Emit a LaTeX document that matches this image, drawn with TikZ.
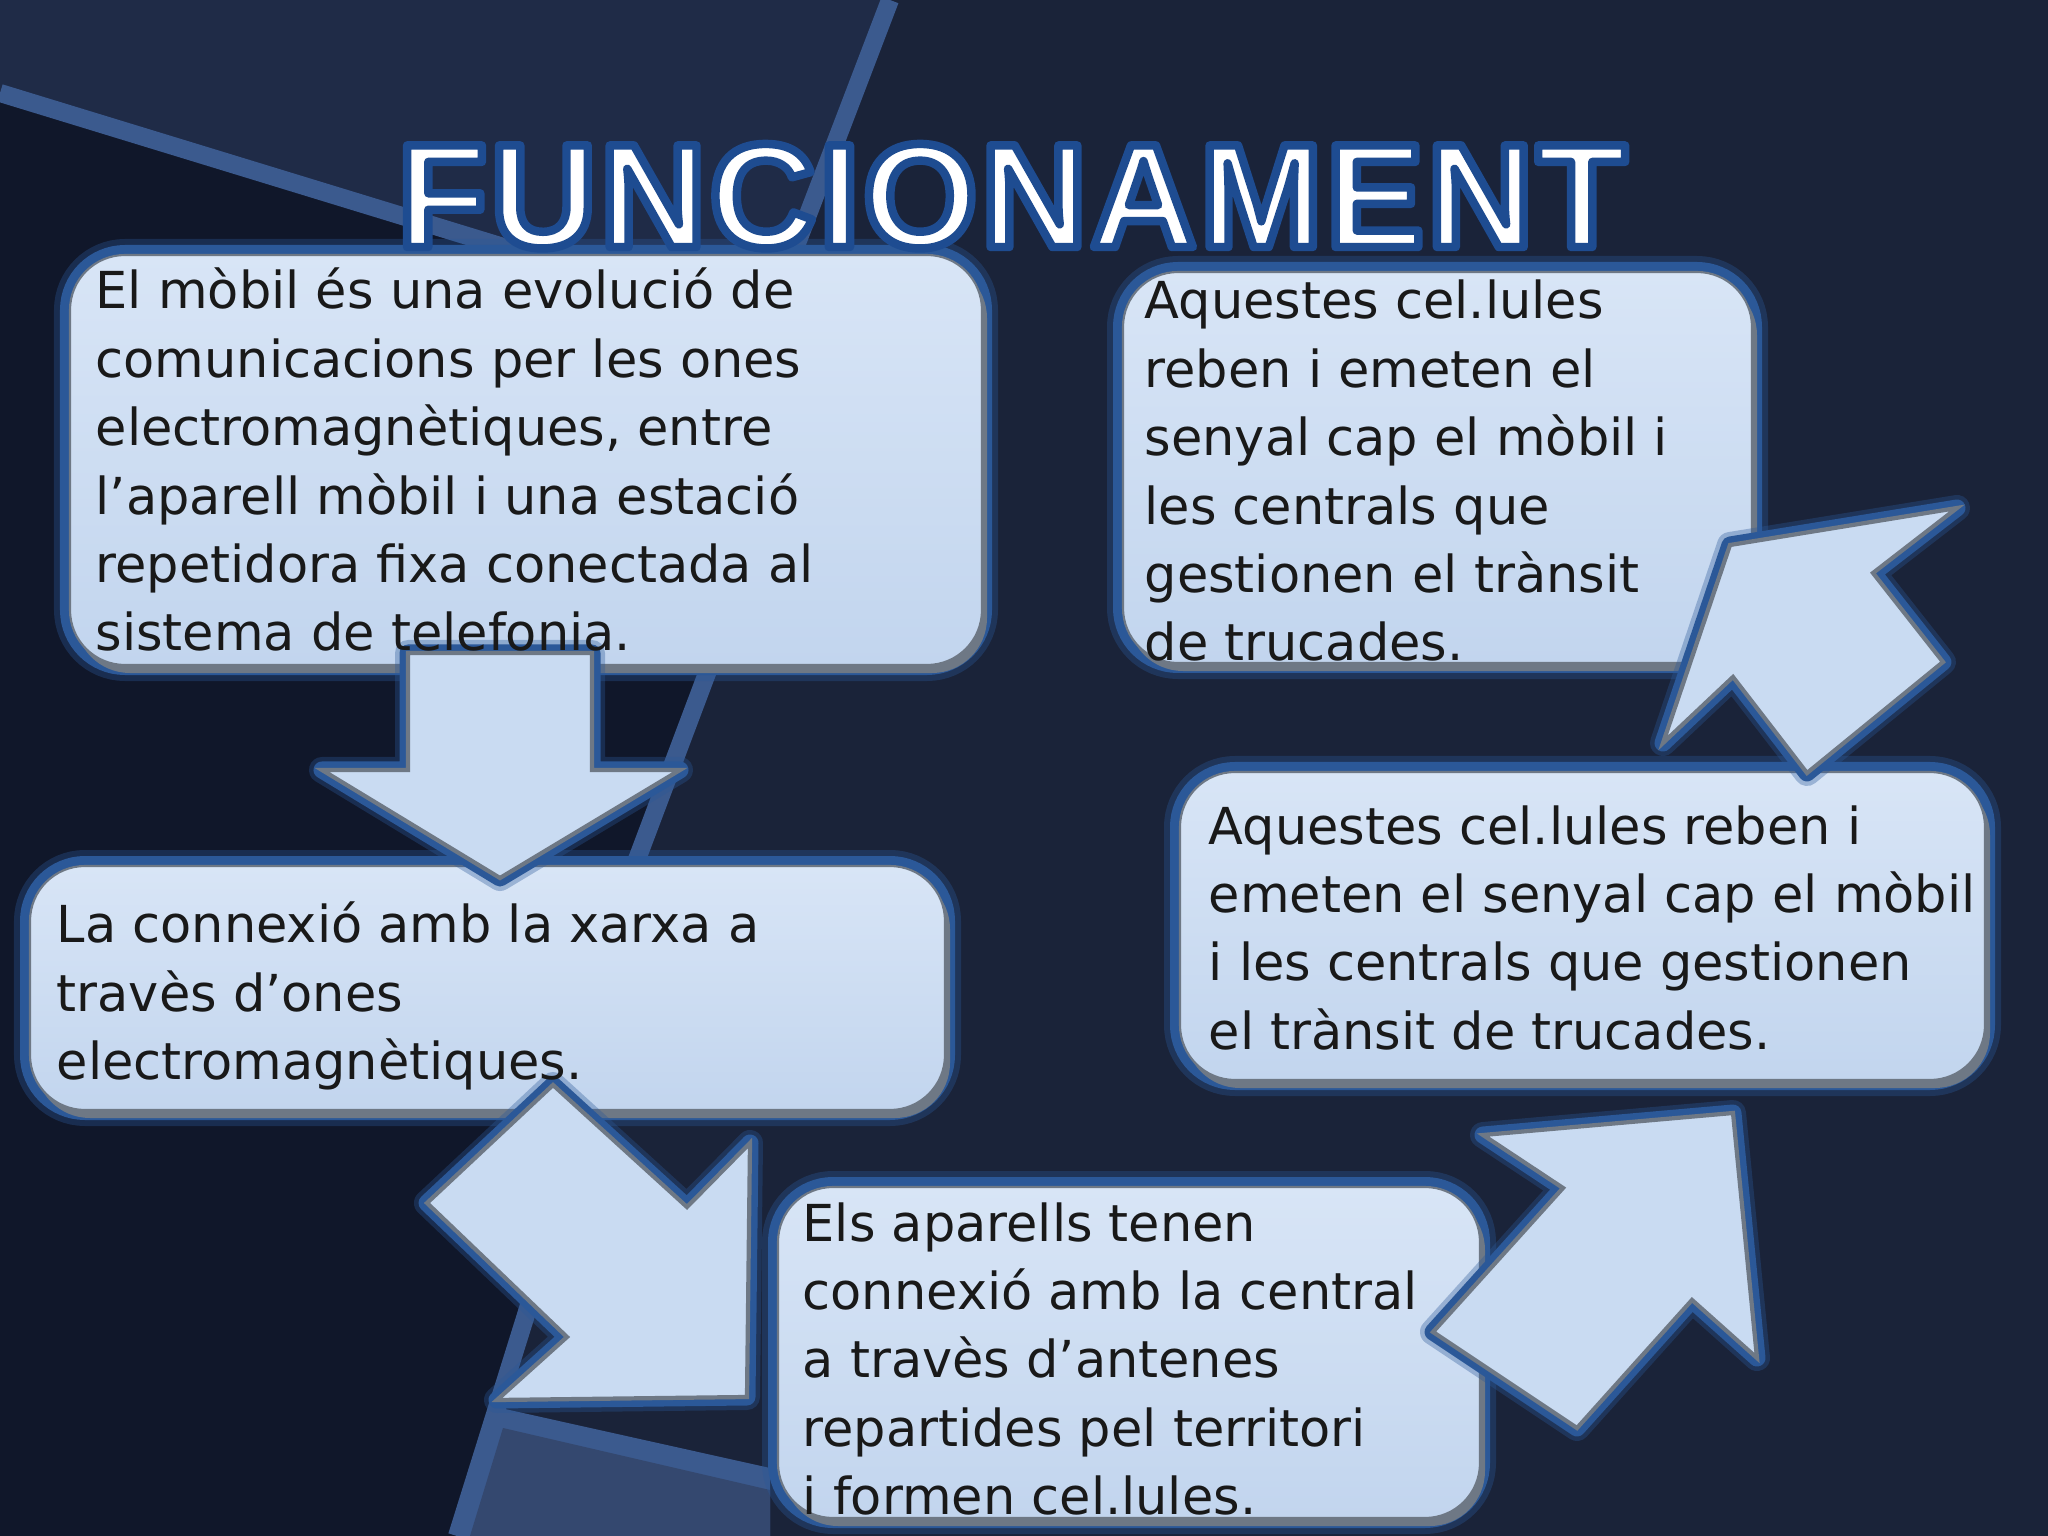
\documentclass[tikz,border=0pt]{standalone}
\usepackage{fontspec}
\usepackage{xcolor}
\usepackage{tikz}
\setmainfont{DejaVu Sans}
\newfontfamily\titlefamily{Liberation Sans}

\definecolor{bgmain}{HTML}{1A2339}
\definecolor{bgtop}{HTML}{1F2B47}
\definecolor{bgdark}{HTML}{10172A}
\definecolor{bgline}{HTML}{3B5A8E}
\definecolor{bgpanel}{HTML}{34486F}
\definecolor{boxtop}{HTML}{D8E5F6}
\definecolor{boxbot}{HTML}{C2D5EE}
\definecolor{boxgray}{HTML}{6E7885}
\definecolor{glowblue}{HTML}{2B5898}
\definecolor{arrowfill}{HTML}{C9DBF2}

\newcommand{\bodyfont}{\fontsize{14.5}{19.45}\selectfont}
\newcommand{\boxlines}[1]{\parbox[t]{10cm}{\raggedright #1}}
% white letters with a blue outline (fill + stroke render mode)
\newcommand{\outlined}[1]{\special{pdf:literal direct 2 Tr 2.4 w 1 j 0.118 0.298 0.569 RG}#1\special{pdf:literal direct 0 Tr}}

\tikzset{
	infobox/.style={draw=boxgray, line width=0.6pt, rounded corners=0.55cm,
		top color=boxtop, bottom color=boxbot, inner sep=0pt,
		preaction={draw=glowblue, line width=0.32cm, opacity=0.35},
		preaction={draw=glowblue, line width=0.2cm},
		preaction={fill=boxgray, transform canvas={shift={(0.05,-0.08)}}}},
	boxtext/.style={anchor=base west, inner sep=0pt, font=\bodyfont, text=black!90},
	blockarrow/.style={fill=arrowfill, draw=boxgray, line width=1.2pt, line join=miter,
		preaction={draw=glowblue, line width=0.26cm, line join=round, opacity=0.35},
		preaction={draw=glowblue, line width=0.17cm, line join=round}},
	bgstroke/.style={draw=bgline, line width=0.18cm},
	titletext/.style={anchor=base, inner sep=0pt, text=white,
		font=\titlefamily\bfseries\fontsize{42}{42}\selectfont\addfontfeature{LetterSpace=2}}
}

\begin{document}
\begin{tikzpicture}
	\useasboundingbox (0,0) rectangle (20.48,-15.36);
%	background
	\fill[bgmain] (0,0) rectangle (20.48,-15.36);
	\fill[bgtop] (0,0) -- (8.90,0) -- (7.65,-3.27) -- (0,-0.93) -- cycle;
	\fill[bgdark] (0,-0.93) -- (7.65,-3.27) -- (7.12,-6.60) -- (6.33,-8.70) -- (5.40,-12.70) -- (4.57,-15.36) -- (0,-15.36) -- cycle;
	\fill[bgline] (4.96,-14.07) -- (7.70,-14.68) -- (7.70,-15.36) -- (4.57,-15.36) -- cycle;
	\fill[bgpanel] (5.03,-14.28) -- (7.70,-14.90) -- (7.70,-15.36) -- (4.70,-15.36) -- cycle;
	\draw[bgstroke] (0,-0.93) -- (7.65,-3.27);
	\draw[bgstroke] (8.90,0) -- (7.65,-3.27);
	\draw[bgstroke] (7.12,-6.60) -- (6.33,-8.70) -- (5.40,-12.70) -- (4.57,-15.36);

%	boxes
	\node[infobox, minimum width=9.12cm, minimum height=4.10cm] (box1) at (5.26,-4.60) {};
	\node[infobox, minimum width=6.29cm, minimum height=3.91cm] (box2) at (14.375,-4.675) {};
	\node[infobox, minimum width=9.15cm, minimum height=2.44cm] (box3) at (4.875,-9.88) {};
	\node[infobox, minimum width=8.05cm, minimum height=3.08cm] (box4) at (15.825,-9.26) {};
	\node[infobox, minimum width=7.02cm, minimum height=3.31cm] (box5) at (11.29,-13.525) {};

%	title
	\node[titletext] (title) at (10.12,-2.47) {\outlined{FUNCIONAMENT}};

%	arrows
	\draw[blockarrow] (4.08,-6.53) -- (5.92,-6.53) -- (5.92,-7.70) -- (6.80,-7.70) -- (5.00,-8.78) -- (3.22,-7.70) -- (4.08,-7.70) -- cycle;
	\draw[blockarrow] (5.53,-10.85) -- (6.87,-12.07) -- (7.50,-11.43) -- (7.47,-13.97) -- (4.97,-14.00) -- (5.67,-13.37) -- (4.27,-12.03) -- cycle;
	\draw[blockarrow] (14.83,-11.35) -- (15.63,-11.88) -- (14.33,-13.32) -- (15.77,-14.28) -- (16.92,-13.00) -- (17.57,-13.58) -- (17.33,-11.13) -- cycle;
	\draw[blockarrow] (17.30,-5.45) -- (19.57,-5.08) -- (18.73,-5.73) -- (19.43,-6.62) -- (18.07,-7.73) -- (17.33,-6.77) -- (16.63,-7.43) -- cycle;

%	texts
	\node[boxtext] (text1) at (0.95,-3.09) {\boxlines{El mòbil és una evolució de\\
		comunicacions per les ones\\
		electromagnètiques, entre\\
		l’aparell mòbil i una estació\\
		repetidora fixa conectada al\\
		sistema de telefonia.}};
	\node[boxtext] (text2) at (11.44,-3.19) {\boxlines{Aquestes cel.lules\\
		reben i emeten el\\
		senyal cap el mòbil i\\
		les centrals que\\
		gestionen el trànsit\\
		de trucades.}};
	\node[boxtext] (text3) at (0.56,-9.43) {\boxlines{La connexió amb la xarxa a\\
		travès d’ones\\
		electromagnètiques.}};
	\node[boxtext] (text4) at (12.08,-8.44) {\boxlines{Aquestes cel.lules reben i\\
		emeten el senyal cap el mòbil\\
		i les centrals que gestionen\\
		el trànsit de trucades.}};
	\node[boxtext] (text5) at (8.02,-12.41) {\boxlines{Els aparells tenen\\
		connexió amb la central\\
		a travès d’antenes\\
		repartides pel territori\\
		i formen cel.lules.}};
\end{tikzpicture}
\end{document}
